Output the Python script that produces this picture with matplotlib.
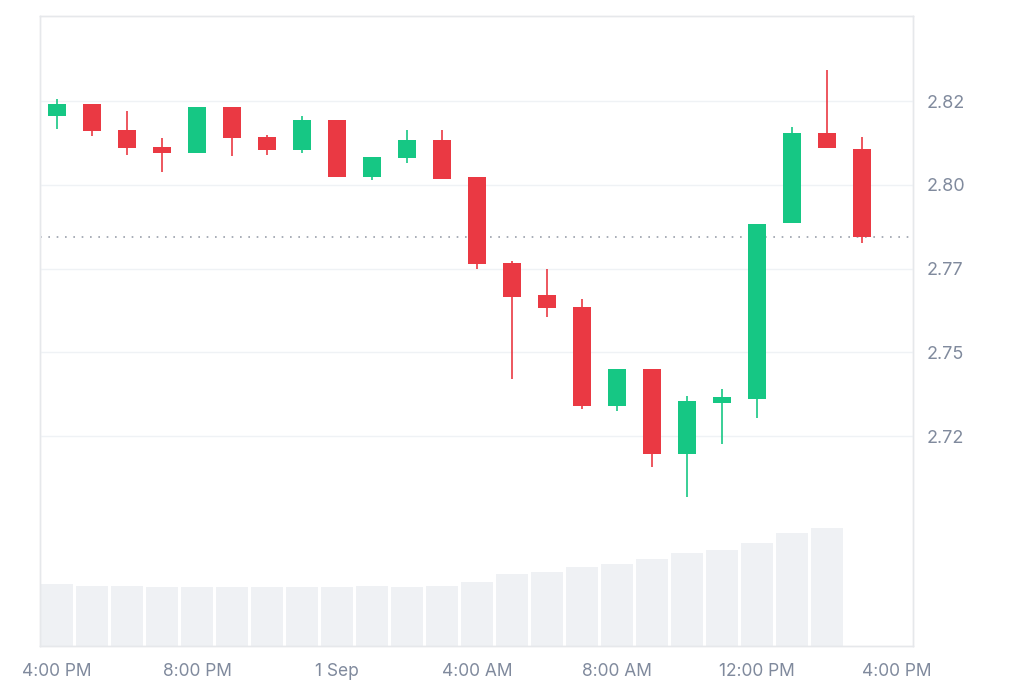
import matplotlib
matplotlib.use('Agg')

import matplotlib.pyplot as plt

plt.rcParams['font.family'] = ['Inter', 'DejaVu Sans']

# hourly candles, 4:00 PM -> 3:00 PM next day
open_ = [2.8206, 2.8242, 2.8165, 2.8114, 2.8095, 2.8231, 2.8144, 2.8105,
         2.8195, 2.8023, 2.8079, 2.8134, 2.8022, 2.7767, 2.7670, 2.7634,
         2.7340, 2.7450, 2.7197, 2.7350, 2.7360, 2.7886, 2.8155, 2.8108]
high = [2.8256, 2.8242, 2.8221, 2.8140, 2.8231, 2.8231, 2.8148, 2.8206,
        2.8195, 2.8083, 2.8165, 2.8165, 2.8022, 2.7773, 2.7748, 2.7660,
        2.7450, 2.7450, 2.7370, 2.7390, 2.7884, 2.8174, 2.8344, 2.8144]
low = [2.8166, 2.8145, 2.8089, 2.8038, 2.8095, 2.8085, 2.8089, 2.8095,
       2.8023, 2.8013, 2.8064, 2.8018, 2.7748, 2.7421, 2.7605, 2.7330,
       2.7325, 2.7157, 2.7069, 2.7226, 2.7303, 2.7886, 2.8110, 2.7826]
close = [2.8242, 2.8160, 2.8110, 2.8095, 2.8231, 2.8140, 2.8105, 2.8195,
         2.8023, 2.8083, 2.8134, 2.8018, 2.7763, 2.7666, 2.7631, 2.7340,
         2.7450, 2.7197, 2.7354, 2.7366, 2.7884, 2.8155, 2.8110, 2.7845]
volume = [62.0, 60.3, 60.3, 58.7, 58.7, 58.7, 58.7, 58.7, 58.7, 60.3, 58.7, 60.3,
          63.7, 72.3, 74.0, 79.0, 82.3, 87.3, 92.7, 96.0, 103.0, 113.0, 118.0]

price_ticks = [2.725, 2.75, 2.775, 2.80, 2.825]
price_labels = ['2.72', '2.75', '2.77', '2.80', '2.82']
time_ticks = [0, 4, 8, 12, 16, 20, 24]
time_labels = ['4:00 PM', '8:00 PM', '1 Sep', '4:00 AM', '8:00 AM', '12:00 PM', '4:00 PM']

GREEN = '#16c784'
RED = '#ea3943'
TEXT = '#808a9d'
GRID = '#eff2f5'
FRAME = '#e6e8eb'

fig = plt.figure(figsize=(10.24, 6.83), dpi=100)
ax_vol = fig.add_axes([40 / 1024, 37 / 683, 873 / 1024, 630.3 / 683])
ax = ax_vol.twinx()

# volume in the background
ax_vol.bar(range(len(volume)), volume, width=0.91, color='#eff1f4', zorder=1)
ax_vol.set_ylim(0, 630.3)
ax_vol.set_yticks([])
ax_vol.set_xlim(-0.49, 24.46)
ax_vol.set_xticks(time_ticks)
ax_vol.set_xticklabels(time_labels, color=TEXT, fontsize=12.5)
ax_vol.tick_params(axis='x', length=0, pad=12)
for s in ax_vol.spines.values():
    s.set_color(FRAME)
    s.set_linewidth(1)

# candles
x = list(range(len(close)))
colors = [GREEN if c >= o else RED for o, c in zip(open_, close)]
ax.vlines(x, low, high, colors=colors, linewidth=1.2, zorder=3)
bottoms = [min(o, c) for o, c in zip(open_, close)]
heights = [max(abs(c - o), 0.0004) for o, c in zip(open_, close)]
ax.bar(x, heights, bottom=bottoms, width=0.52, color=colors, zorder=4)

ax.axhline(close[-1], color='#9aa0ab', linestyle=(0, (1, 4)), linewidth=1.2, zorder=2)

ax.set_ylim(2.6623, 2.8505)
ax.set_yticks(price_ticks)
ax.set_yticklabels(price_labels, color=TEXT, fontsize=13)
ax.tick_params(axis='y', length=0, pad=10)
ax.grid(axis='y', color=GRID, linewidth=1, zorder=0)
ax.set_axisbelow(True)
for s in ax.spines.values():
    s.set_color(FRAME)
    s.set_linewidth(1)

fig.savefig('out.png', dpi=100)
